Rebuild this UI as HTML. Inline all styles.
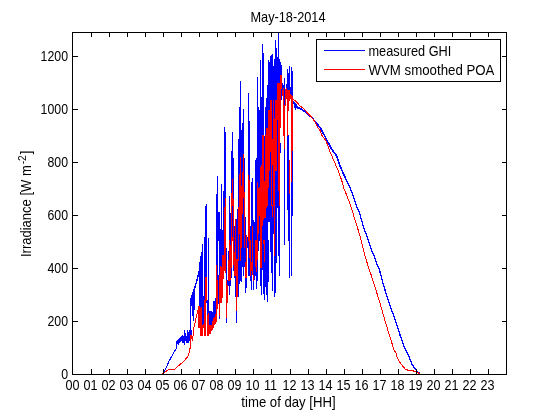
<!DOCTYPE html>
<html><head><meta charset="utf-8"><style>
html,body{margin:0;padding:0;background:#fff;width:560px;height:420px;overflow:hidden}
svg{display:block}
text{font-family:"Liberation Sans",sans-serif;font-size:14px;fill:#000}
</style></head><body>
<svg width="560" height="420" viewBox="0 0 560 420">
<g shape-rendering="crispEdges">
<polyline points="162.7,373.8 165.5,369.3 167.5,364.7 169.0,361.3 172.2,355.3 174.2,352.0 176.0,349.0 177.0,341.0" fill="none" stroke="#0000ff" stroke-width="1"/><path d="M177.5 340V344M178.5 339V345M179.5 338V343M180.5 337V342M181.5 336V341M182.5 335V343M183.5 336V343M184.5 330V345M185.5 333V341M186.5 336V343M187.5 330V343M188.5 332V343M189.5 330V341M190.5 298V337M191.5 295V306M191.5 330V339M192.5 292V316M193.5 289V321M194.5 286V310M195.5 283V288M196.5 279V284M197.5 275V281M198.5 271V277M199.5 262V307M200.5 256V309M201.5 252V308M202.5 244V326M203.5 296V325M204.5 237V301M205.5 206V301M206.5 204V303M207.5 300V316M208.5 238V314M209.5 311V326M210.5 311V326M211.5 311V326M212.5 312V322M213.5 301V319M214.5 301V318M215.5 298V315M216.5 194V266M217.5 176V281M218.5 212V241M218.5 275V304M219.5 212V276M219.5 315V319M220.5 229V267M221.5 184V268M222.5 230V256M223.5 191V256M224.5 127V208M225.5 132V199M226.5 248V281M226.5 317V323M227.5 280V303M228.5 251V286M229.5 196V295M230.5 213V286M231.5 151V194M231.5 267V278M232.5 132V180M232.5 205V238M233.5 158V200M233.5 264V271M234.5 226V261M234.5 275V278M235.5 275V297M236.5 219V260M236.5 310V323M237.5 209V276M238.5 139V208M238.5 260V297M239.5 107V175M239.5 233V284M240.5 81V158M240.5 260V281M241.5 130V187M241.5 247V282M242.5 123V173M242.5 213V267M243.5 109V155M243.5 197V276M244.5 158V193M244.5 247V267M245.5 217V293M246.5 277V288M247.5 237V248M248.5 93V176M248.5 240V276M249.5 121V181M249.5 257V276M250.5 226V281M251.5 182V263M251.5 270V290M252.5 178V227M253.5 220V290M254.5 222V280M255.5 160V276M256.5 158V289M257.5 77V183M257.5 259V281M258.5 107V189M258.5 233V251M259.5 110V188M259.5 215V241M260.5 60V177M260.5 267V286M261.5 97V166M261.5 267V295M262.5 44V136M262.5 225V270M263.5 53V136M263.5 219V294M264.5 136V182M264.5 217V300M265.5 107V136M265.5 217V287M266.5 98V136M266.5 207V295M267.5 85V129M267.5 205V302M268.5 60V111M268.5 187V222M268.5 240V282M269.5 62V111M269.5 170V222M270.5 56V101M270.5 151V252M271.5 55V101M271.5 205V273M272.5 54V140M272.5 164V206M272.5 216V291M273.5 66V101M273.5 205V234M274.5 59V120M274.5 255V297M275.5 40V101M275.5 170V293M276.5 48V101M276.5 170V263M277.5 57V84M277.5 119V208M278.5 33V84M278.5 190V256M279.5 59V84M279.5 205V276M280.5 62V76M280.5 143V153M281.5 65V100M282.5 83V96M283.5 85V91M284.5 78V106M284.5 148V245M285.5 89V106M286.5 84V99M287.5 69V91M287.5 114V210M288.5 73V91M288.5 135V241M289.5 66V101M289.5 193V278M290.5 87V99M291.5 67V96M291.5 181V276M292.5 71V101M292.5 150V216" fill="none" stroke="#0000ff" stroke-width="1"/><polyline points="293.0,101.0 294.0,103.0 295.0,104.0 295.5,109.7 296.0,105.0 297.7,108.0 300.0,108.3 302.5,110.0 305.0,111.7 307.5,113.8 310.8,116.7 312.5,118.0 315.0,121.7 317.5,124.2 320.0,127.5 322.0,130.8 323.3,133.3 325.0,136.5 327.1,140.7 331.4,148.6 336.4,155.7 340.0,165.7 343.6,174.3 346.7,180.8 350.0,187.5" fill="none" stroke="#0000ff" stroke-width="1.6"/><polyline points="346.7,180.8 350.0,187.5 352.5,194.2 354.6,200.8 357.1,207.5 359.6,213.3 362.9,225.0 367.9,239.3 371.4,250.0 373.6,254.3 377.1,264.3 379.3,269.3 382.9,282.9 387.1,297.1 390.0,305.7 395.0,319.3 400.0,335.0 403.6,345.4 405.7,350.0 407.9,354.3 410.0,359.3 412.1,364.3 415.0,368.6 417.1,371.4 420.0,373.6" fill="none" stroke="#0000ff" stroke-width="1.3"/><polyline points="162.7,374.0 165.0,372.0 168.3,370.0 175.0,369.3 179.0,365.3 183.0,362.0 187.7,356.7 189.7,350.7 190.5,345.0 190.5,336.0 191.0,335.3 191.7,338.7 192.7,340.0 193.3,332.7 194.0,327.3 195.3,322.0 196.4,315.8 198.5,308.3 199.0,306.0" fill="none" stroke="#ff0000" stroke-width="1"/><path d="M198.5 307V328M199.5 306V328M200.5 308V336M201.5 307V336M202.5 325V336M203.5 324V328M204.5 300V336M205.5 277V336M206.5 277V301M207.5 315V336M208.5 313V336M209.5 325V334M210.5 325V334M211.5 325V331M212.5 321V330M213.5 318V328M214.5 317V325M215.5 314V324M216.5 265V322M217.5 280V309M219.5 275V316M220.5 266V303M221.5 267V303M222.5 255V298M223.5 255V279M224.5 207V271M225.5 198V273M226.5 280V318M227.5 285V303M228.5 260V281M229.5 240V281M230.5 245V280M231.5 193V268M232.5 179V206M232.5 237V241M233.5 199V265M234.5 252V276M235.5 219V276M236.5 259V311M237.5 259V297M238.5 207V261M239.5 174V234M240.5 157V261M241.5 186V248M242.5 172V214M243.5 154V198M244.5 192V248M245.5 262V278M246.5 235V278M248.5 175V241M249.5 180V258M250.5 240V276M251.5 262V271M252.5 226V275M253.5 275V281M255.5 240V267M256.5 240V272M257.5 182V260M258.5 188V234M259.5 187V216M260.5 167V268M261.5 165V268M262.5 135V226M263.5 135V220M263.5 240V244M264.5 181V218M264.5 240V262M265.5 135V218M266.5 128V208M267.5 128V206M268.5 110V188M269.5 110V171M270.5 100V152M271.5 100V206M272.5 139V165M272.5 205V217M273.5 100V206M274.5 119V256M275.5 100V171M276.5 100V171M277.5 83V120M278.5 83V191M279.5 83V206M280.5 75V128M281.5 75V89M282.5 90V96M283.5 88V136M284.5 105V149M285.5 89V106M286.5 88V99M287.5 90V136M288.5 90V111M289.5 90V101M289.5 160V194M290.5 94V99M291.5 95V182M292.5 96V151" fill="none" stroke="#ff0000" stroke-width="1"/><polyline points="293.0,99.7 295.0,100.5 300.0,105.8 303.3,108.3 306.7,112.0 310.0,115.4 313.3,119.2 315.8,123.3 318.3,128.3 320.4,131.2 321.7,135.0 323.6,137.5 326.4,141.7 329.3,150.0 333.6,160.0 337.9,170.0 341.7,180.4 344.2,189.2 346.7,195.0 348.8,200.8 350.8,206.7 353.3,214.2 355.7,222.1 359.3,233.6 363.6,250.7 367.1,262.9 371.4,275.7 375.0,287.1 378.6,298.6 380.7,305.7 385.0,320.7 389.3,335.0 394.3,350.7 395.7,352.1 396.8,356.4 398.6,360.0 400.7,363.6 402.9,366.4 405.7,369.6 409.3,370.4 412.1,370.4 414.3,371.4 416.4,371.8 418.6,372.9 419.3,374.0" fill="none" stroke="#ff0000" stroke-width="1"/>
</g>
<g shape-rendering="crispEdges" fill="#000">
<rect x="316.5" y="39.5" width="184" height="42" fill="#fff" stroke="#000" stroke-width="1"/><rect x="324" y="50" width="41" height="1" fill="#0000ff"/><rect x="324" y="69" width="41" height="1" fill="#ff0000"/>
<rect x="72.5" y="32.5" width="434" height="342" fill="none" stroke="#000" stroke-width="1"/><rect x="91" y="369" width="1" height="5"/><rect x="91" y="33" width="1" height="4"/><rect x="109" y="369" width="1" height="5"/><rect x="109" y="33" width="1" height="4"/><rect x="127" y="369" width="1" height="5"/><rect x="127" y="33" width="1" height="4"/><rect x="145" y="369" width="1" height="5"/><rect x="145" y="33" width="1" height="4"/><rect x="163" y="369" width="1" height="5"/><rect x="163" y="33" width="1" height="4"/><rect x="181" y="369" width="1" height="5"/><rect x="181" y="33" width="1" height="4"/><rect x="199" y="369" width="1" height="5"/><rect x="199" y="33" width="1" height="4"/><rect x="217" y="369" width="1" height="5"/><rect x="217" y="33" width="1" height="4"/><rect x="235" y="369" width="1" height="5"/><rect x="235" y="33" width="1" height="4"/><rect x="253" y="369" width="1" height="5"/><rect x="253" y="33" width="1" height="4"/><rect x="271" y="369" width="1" height="5"/><rect x="271" y="33" width="1" height="4"/><rect x="290" y="369" width="1" height="5"/><rect x="290" y="33" width="1" height="4"/><rect x="308" y="369" width="1" height="5"/><rect x="308" y="33" width="1" height="4"/><rect x="326" y="369" width="1" height="5"/><rect x="326" y="33" width="1" height="4"/><rect x="344" y="369" width="1" height="5"/><rect x="344" y="33" width="1" height="4"/><rect x="362" y="369" width="1" height="5"/><rect x="362" y="33" width="1" height="4"/><rect x="380" y="369" width="1" height="5"/><rect x="380" y="33" width="1" height="4"/><rect x="398" y="369" width="1" height="5"/><rect x="398" y="33" width="1" height="4"/><rect x="416" y="369" width="1" height="5"/><rect x="416" y="33" width="1" height="4"/><rect x="434" y="369" width="1" height="5"/><rect x="434" y="33" width="1" height="4"/><rect x="452" y="369" width="1" height="5"/><rect x="452" y="33" width="1" height="4"/><rect x="470" y="369" width="1" height="5"/><rect x="470" y="33" width="1" height="4"/><rect x="488" y="369" width="1" height="5"/><rect x="488" y="33" width="1" height="4"/><rect x="73" y="321" width="5" height="1"/><rect x="502" y="321" width="4" height="1"/><rect x="73" y="268" width="5" height="1"/><rect x="502" y="268" width="4" height="1"/><rect x="73" y="215" width="5" height="1"/><rect x="502" y="215" width="4" height="1"/><rect x="73" y="162" width="5" height="1"/><rect x="502" y="162" width="4" height="1"/><rect x="73" y="109" width="5" height="1"/><rect x="502" y="109" width="4" height="1"/><rect x="73" y="56" width="5" height="1"/><rect x="502" y="56" width="4" height="1"/>
</g>
<filter id="thr" x="0" y="0" width="560" height="420" filterUnits="userSpaceOnUse"><feComponentTransfer><feFuncA type="identity"/></feComponentTransfer></filter>
<g filter="url(#thr)">
<text transform="translate(72.5,390) scale(0.9,1)" text-anchor="middle" >00</text><text transform="translate(90.5,390) scale(0.9,1)" text-anchor="middle" >01</text><text transform="translate(108.5,390) scale(0.9,1)" text-anchor="middle" >02</text><text transform="translate(126.5,390) scale(0.9,1)" text-anchor="middle" >03</text><text transform="translate(144.5,390) scale(0.9,1)" text-anchor="middle" >04</text><text transform="translate(162.5,390) scale(0.9,1)" text-anchor="middle" >05</text><text transform="translate(180.5,390) scale(0.9,1)" text-anchor="middle" >06</text><text transform="translate(198.5,390) scale(0.9,1)" text-anchor="middle" >07</text><text transform="translate(216.5,390) scale(0.9,1)" text-anchor="middle" >08</text><text transform="translate(234.5,390) scale(0.9,1)" text-anchor="middle" >09</text><text transform="translate(252.5,390) scale(0.9,1)" text-anchor="middle" >10</text><text transform="translate(270.5,390) scale(0.9,1)" text-anchor="middle" >11</text><text transform="translate(289.5,390) scale(0.9,1)" text-anchor="middle" >12</text><text transform="translate(307.5,390) scale(0.9,1)" text-anchor="middle" >13</text><text transform="translate(325.5,390) scale(0.9,1)" text-anchor="middle" >14</text><text transform="translate(343.5,390) scale(0.9,1)" text-anchor="middle" >15</text><text transform="translate(361.5,390) scale(0.9,1)" text-anchor="middle" >16</text><text transform="translate(379.5,390) scale(0.9,1)" text-anchor="middle" >17</text><text transform="translate(397.5,390) scale(0.9,1)" text-anchor="middle" >18</text><text transform="translate(415.5,390) scale(0.9,1)" text-anchor="middle" >19</text><text transform="translate(433.5,390) scale(0.9,1)" text-anchor="middle" >20</text><text transform="translate(451.5,390) scale(0.9,1)" text-anchor="middle" >21</text><text transform="translate(469.5,390) scale(0.9,1)" text-anchor="middle" >22</text><text transform="translate(487.5,390) scale(0.9,1)" text-anchor="middle" >23</text><text transform="translate(68,379) scale(0.88,1)" text-anchor="end" >0</text><text transform="translate(68,326) scale(0.88,1)" text-anchor="end" >200</text><text transform="translate(68,273) scale(0.88,1)" text-anchor="end" >400</text><text transform="translate(68,220) scale(0.88,1)" text-anchor="end" >600</text><text transform="translate(68,167) scale(0.88,1)" text-anchor="end" >800</text><text transform="translate(68,114) scale(0.88,1)" text-anchor="end" >1000</text><text transform="translate(68,61) scale(0.88,1)" text-anchor="end" >1200</text><text transform="translate(288,22) scale(0.912,1)" text-anchor="middle" >May-18-2014</text><text transform="translate(288.5,407) scale(0.94,1)" text-anchor="middle" >time of day [HH]</text><text transform="translate(31,257) rotate(-90) scale(0.93,1)">Irradiance [W m<tspan dx="1" dy="-5" font-size="11px">-2</tspan><tspan dx="1" dy="5">]</tspan></text>
<text transform="translate(368.5,56) scale(0.91,1)" text-anchor="start" >measured GHI</text><text transform="translate(368.5,75) scale(0.947,1)" text-anchor="start" >WVM smoothed POA</text>
</g>
</svg>
</body></html>
